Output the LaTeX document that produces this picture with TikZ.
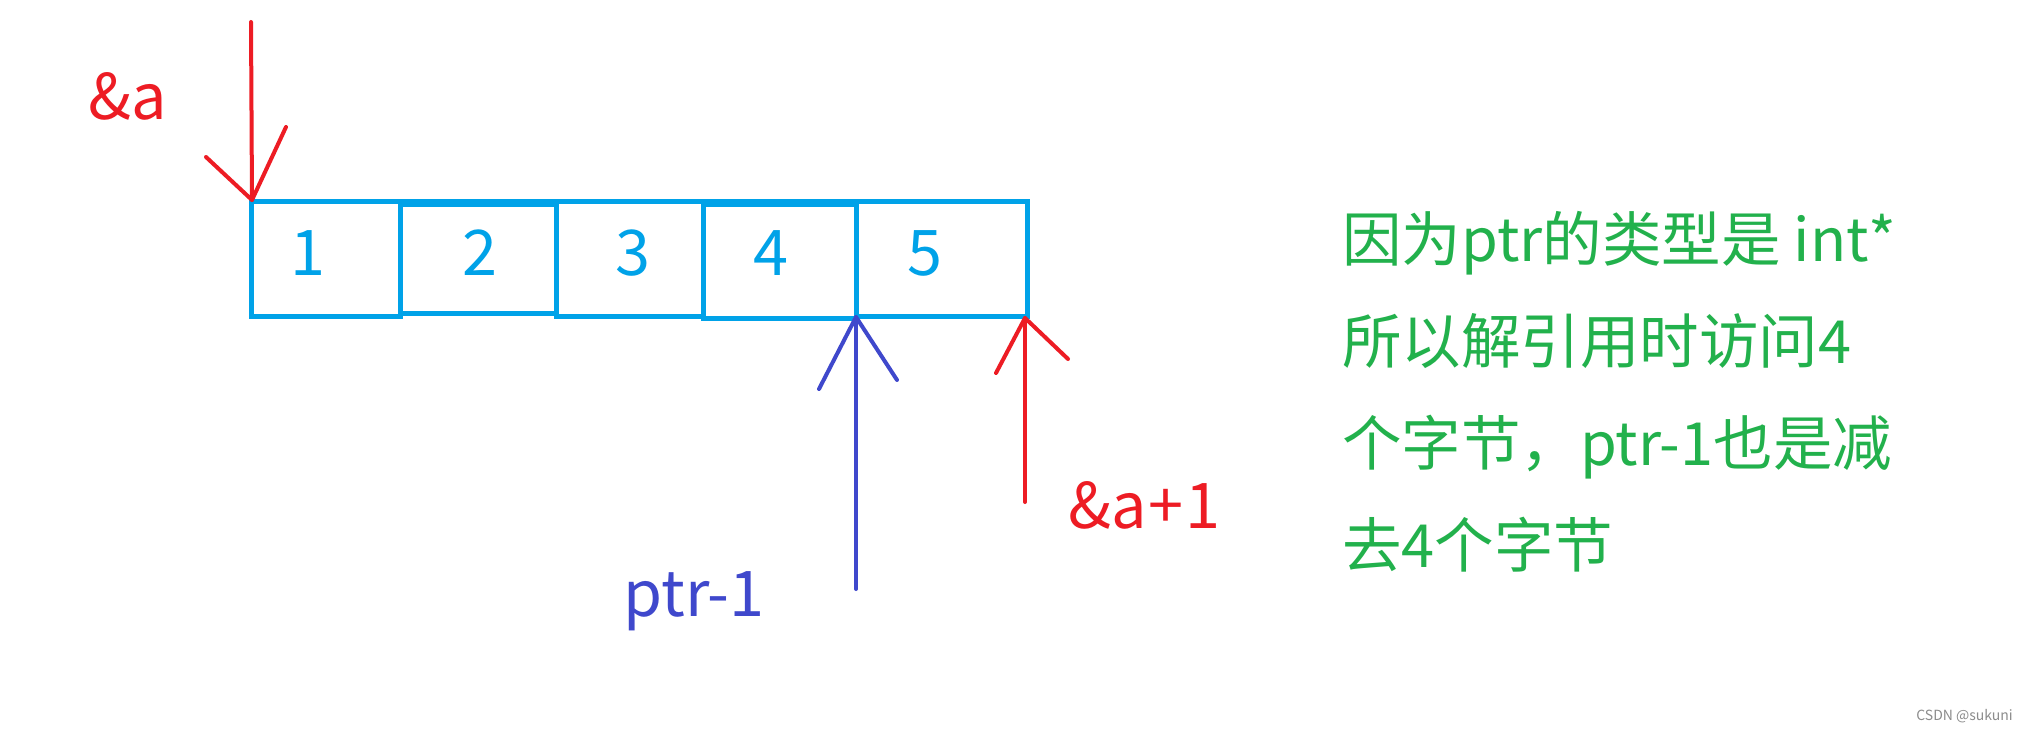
\documentclass[tikz,border=0pt]{standalone}
\usepackage{fontspec}
\setmainfont{Noto Sans CJK SC}
\definecolor{pred}{HTML}{ED1C24}
\definecolor{pblue}{HTML}{3F48CC}
\definecolor{pcyan}{HTML}{00A2E8}
\definecolor{pgreen}{HTML}{22B14C}
\begin{document}
\begin{tikzpicture}[x=1pt,y=-1pt,
  cellbox/.style={draw=pcyan,line width=5pt},
  digit/.style={text=pcyan,inner sep=0pt,anchor=base,font=\fontsize{63}{70}\selectfont},
  lab/.style={inner sep=0pt,anchor=base west,font=\fontsize{63}{70}\selectfont},
  note/.style={text=pgreen,inner sep=0pt,anchor=base west,font=\fontsize{59.5}{66}\selectfont},
  redline/.style={draw=pred,line width=4pt,line cap=round,line join=round},
  blueline/.style={draw=pblue,line width=4pt,line cap=round,line join=round}]
\useasboundingbox (0,0) rectangle (2039,730);
\fill[white] (0,0) rectangle (2039,730);
% cells
\draw[cellbox] (251,202) rectangle (400,316);
\draw[cellbox] (400,205) rectangle (556,313);
\draw[cellbox] (556,202) rectangle (703,316);
\draw[cellbox] (703,205) rectangle (856,318);
\draw[cellbox] (856,202) rectangle (1027,316);
\draw[cellbox] (251,202) -- (1027,202);
\node[digit] (d1) at (308,275) {1};
\node[digit] (d2) at (480,275) {2};
\node[digit] (d3) at (633,275) {3};
\node[digit] (d4) at (771,275) {4};
\node[digit] (d5) at (925,275) {5};
% &a arrow
\coordinate (aTop) at (251,22);
\coordinate (aTip) at (252,200);
\coordinate (aL) at (206,157);
\coordinate (aR) at (286,127);
\draw[redline] (aTop) -- (aTip);
\draw[redline] (aL) -- (aTip) -- (aR);
\node[lab,text=pred] (la) at (88,120) {\&a};
% ptr-1 arrow
\coordinate (bBot) at (856,589);
\coordinate (bTip) at (856,317);
\coordinate (bL) at (819,389);
\coordinate (bR) at (897,380);
\draw[blueline] (bBot) -- (bTip);
\draw[blueline] (bL) -- (bTip) -- (bR);
\node[lab,text=pblue,anchor=base] (lb) at (694,616) {ptr-1};
% &a+1 arrow
\coordinate (cBot) at (1025,502);
\coordinate (cTip) at (1025,318);
\coordinate (cL) at (996,373);
\coordinate (cR) at (1068,359);
\draw[redline] (cBot) -- (cTip);
\draw[redline] (cL) -- (cTip) -- (cR);
\node[lab,text=pred] (lc) at (1068,528) {\&a\kern2pt+\kern2pt1};
% note
\node[note] (n1) at (1342,261) {因为ptr的类型是 int*};
\node[note] (n2) at (1342,363) {所以解引用时访问4};
\node[note] (n3) at (1342,465) {个字节，ptr-1也是减};
\node[note] (n4) at (1342,567) {去4个字节};
% watermark
\node[inner sep=0pt,anchor=base east,text=black!45,font=\fontsize{14}{16}\selectfont] (wm) at (2013,720) {CSDN @sukuni};
\end{tikzpicture}
\end{document}
